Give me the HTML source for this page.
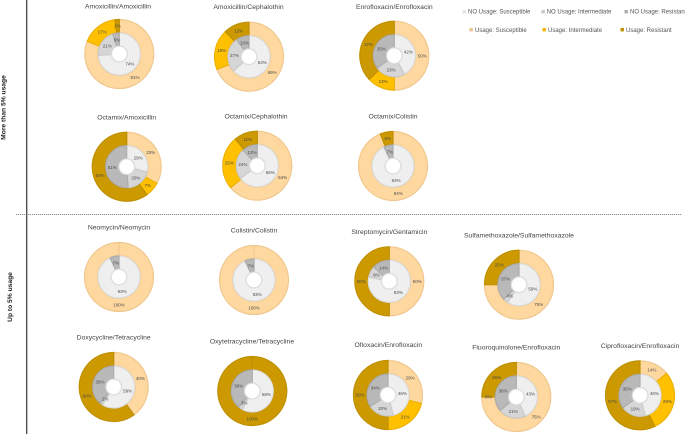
<!DOCTYPE html>
<html>
<head>
<meta charset="utf-8">
<style>
html,body{margin:0;padding:0;background:#fff;}
svg{display:block;font-family:"Liberation Sans",sans-serif;}
</style>
</head>
<body>
<svg id="figure" xmlns="http://www.w3.org/2000/svg" width="685" height="434" viewBox="0 0 685 434">
  <line x1="26.7" y1="0" x2="26.7" y2="434" stroke="#444" stroke-width="1.3"/>
  <line x1="16" y1="214.4" x2="682" y2="214.4" stroke="#666" stroke-width="0.7" stroke-dasharray="1.2 0.8"/>
  <text transform="translate(5.7,107.5) rotate(-90)" text-anchor="middle" font-size="6.7" font-weight="bold" fill="#222">More than 5% usage</text>
  <text transform="translate(12.2,297) rotate(-90)" text-anchor="middle" font-size="6.7" font-weight="bold" fill="#222">Up to 5% usage</text>
  <g font-size="6" fill="#555">
    <rect x="462.5" y="10" width="3.4" height="3.4" fill="#E4E4E4"/>
    <text x="468" y="13.7">NO Usage: Susceptible</text>
    <rect x="541.5" y="10" width="3.4" height="3.4" fill="#C8C8C8"/>
    <text x="546.7" y="13.7">NO Usage: Intermediate</text>
    <rect x="624.5" y="10" width="3.4" height="3.4" fill="#ABABAB"/>
    <text x="630" y="13.7">NO Usage: Resistant</text>
    <rect x="469.5" y="28" width="3.4" height="3.4" fill="#EBC48C"/>
    <text x="475" y="31.8">Usage: Susceptible</text>
    <rect x="542.5" y="28" width="3.4" height="3.4" fill="#F0B400"/>
    <text x="548" y="31.8">Usage: Intermediate</text>
    <rect x="620.5" y="28" width="3.4" height="3.4" fill="#BF9000"/>
    <text x="626" y="31.8">Usage: Resistant</text>
  </g>
</svg>
<script>
// Chart data: [susceptible, intermediate, resistant]; null = slice without a printed label
var chartTitles = [
  "Amoxicillin/Amoxicillin", "Amoxicillin/Cephalothin", "Enrofloxacin/Enrofloxacin",
  "Octamix/Amoxicillin", "Octamix/Cephalothin", "Octamix/Colistin",
  "Neomycin/Neomycin", "Colistin/Colistin", "Streptomycin/Gentamicin", "Sulfamethoxazole/Sulfamethoxazole",
  "Doxycycline/Tetracycline", "Oxytetracycline/Tetracycline", "Ofloxacin/Enrofloxacin", "Fluoroquinolone/Enrofloxacin", "Ciprofloxacin/Enrofloxacin"
];
var noUsageValues = [
  [74,21,5], [63,27,10], [42,23,35],
  [29,20,51], [66,24,12], [93,null,7],
  [93,null,7], [93,null,7], [83,9,14], [59,4,37],
  [59,2,39], [58,3,39], [46,20,34], [43,21,36], [46,19,35]
];
var usageValues = [
  [81,17,2], [69,19,12], [50,13,37],
  [33,7,60], [64,25,11], [94,null,6],
  [100,null,null], [100,null,null], [50,null,50], [75,null,25],
  [40,null,60], [null,null,100], [29,21,50], [75,0,25], [14,29,57]
];

// Layout (not data)
var panelLayout = [
  {cx:119.3,cy:54,ty:6.5,tx:118},{cx:249,cy:56.7,ty:7,tx:248.5},{cx:394.3,cy:55.7,ty:6.7,tx:394.3},
  {cx:126.7,cy:166.7,ty:117.5,tx:126.7},{cx:257.3,cy:165.7,ty:116.5,tx:256},{cx:393,cy:166,ty:116.5,tx:393},
  {cx:119,cy:277,ty:227.3,tx:119},{cx:254,cy:280,ty:230.3,tx:254},{cx:389.3,cy:281.3,ty:232,tx:389.3},{cx:519,cy:284.7,ty:235.3,tx:519},
  {cx:113.7,cy:387,ty:337.3,tx:113.7},{cx:252.3,cy:391,ty:341.3,tx:252},{cx:388,cy:395,ty:345,tx:388.3},{cx:516.3,cy:397,ty:347.3,tx:516.3},{cx:640,cy:395.3,ty:345.7,tx:640}
];
var outerFill = ["#FFD8A0","#FFC000","#CC9900"];
var outerEdge = ["#EFC88F","#EDB200","#BF9000"];
var innerFill = ["#EFEFEF","#D6D6D6","#B9B9B9"];
var innerEdge = ["#DEDEDE","#CBCBCB","#ADADAD"];
var statusNames = ["susceptible","intermediate","resistant"];
var NS = "http://www.w3.org/2000/svg";
var svg = document.getElementById("figure");

function polar(cx, cy, r, frac) {
  var a = frac * 2 * Math.PI;
  return [cx + r * Math.sin(a), cy - r * Math.cos(a)];
}
function arcPath(cx, cy, r0, r1, f0, f1) {
  if (f1 - f0 > 0.9999) f1 = f0 + 0.9999;
  var large = (f1 - f0) > 0.5 ? 1 : 0;
  var p0 = polar(cx, cy, r1, f0), p1 = polar(cx, cy, r1, f1);
  var p2 = polar(cx, cy, r0, f1), p3 = polar(cx, cy, r0, f0);
  return "M" + p0[0] + " " + p0[1] + "A" + r1 + " " + r1 + " 0 " + large + " 1 " + p1[0] + " " + p1[1] +
    "L" + p2[0] + " " + p2[1] + "A" + r0 + " " + r0 + " 0 " + large + " 0 " + p3[0] + " " + p3[1] + "Z";
}
function drawRing(parent, cx, cy, values, r0, r1, fills, edges, ringName) {
  var total = 0;
  values.forEach(function (v) { total += v || 0; });
  var acc = 0;
  values.forEach(function (v, i) {
    if (v === null) return;
    var f0 = acc / total, f1 = (acc + v) / total;
    acc += v;
    if (v > 0) {
      var path = document.createElementNS(NS, "path");
      path.setAttribute("d", arcPath(cx, cy, r0, r1, f0, f1));
      path.setAttribute("fill", fills[i]);
      path.setAttribute("stroke", edges[i]);
      path.setAttribute("stroke-width", "1.2");
      
      
      parent.appendChild(path);
    }
  });
}
function drawLabels(parent, cx, cy, values, r0, r1, ringName) {
  var total = 0;
  values.forEach(function (v) { total += v || 0; });
  var acc = 0;
  values.forEach(function (v, i) {
    if (v === null) return;
    var mid = (acc + v / 2) / total;
    acc += v;
    var p = polar(cx, cy, (r0 + r1) / 2, mid);
    var t = document.createElementNS(NS, "text");
    t.setAttribute("x", p[0]);
    t.setAttribute("y", p[1] + 1.6);
    t.setAttribute("text-anchor", "middle");
    t.setAttribute("font-size", "4.5");
    t.setAttribute("fill", "#4a4a4a");
    t.textContent = v + "%";
    
    
    parent.appendChild(t);
  });
}
chartTitles.forEach(function (title, k) {
  var L = panelLayout[k];
  var g = document.createElementNS(NS, "g");
  
  
  svg.appendChild(g);
  var t = document.createElementNS(NS, "text");
  t.setAttribute("x", L.tx);
  t.setAttribute("y", L.ty + 2.2);
  t.setAttribute("text-anchor", "middle");
  t.setAttribute("font-size", "6.8");
  t.setAttribute("fill", "#444");
  t.textContent = title;
  
  
  g.appendChild(t);
  drawRing(g, L.cx, L.cy, usageValues[k], 21.5, 34.5, outerFill, outerEdge, 'usage-ring');
  drawRing(g, L.cx, L.cy, noUsageValues[k], 8, 21, innerFill, innerEdge, 'no-usage-ring');
  var hole = document.createElementNS(NS, "circle");
  hole.setAttribute("cx", L.cx);
  hole.setAttribute("cy", L.cy);
  hole.setAttribute("r", "7.8");
  hole.setAttribute("fill", "#fff");
  hole.setAttribute("stroke", "#DEDEDE");
  hole.setAttribute("stroke-width", "1.2");
  
  
  g.appendChild(hole);
  drawLabels(g, L.cx, L.cy, usageValues[k], 21.5, 34.5, 'usage-ring');
  drawLabels(g, L.cx, L.cy, noUsageValues[k], 8, 21, 'no-usage-ring');
});
</script>
</body>
</html>
